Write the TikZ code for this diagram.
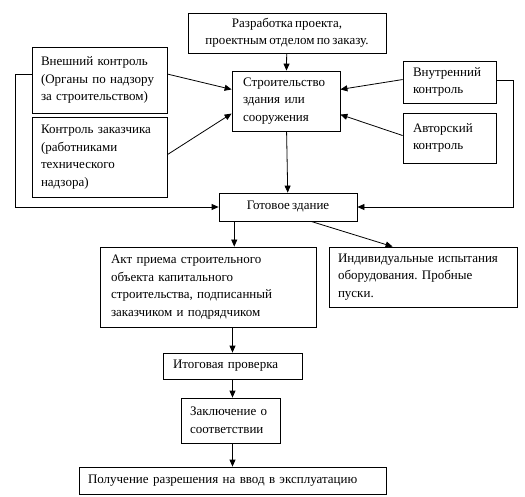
\documentclass[tikz,border=0pt]{standalone}
\usepackage{fontspec}
\setmainfont{Liberation Serif}[WordSpace=0.7]
\usetikzlibrary{arrows.meta}
\frenchspacing

\begin{document}
\begin{tikzpicture}[x=1pt,y=-1pt,->,>={Triangle[length=7pt,width=6pt]},line width=0.8pt]
	\tikzstyle{block}=[draw,rectangle,align=left,inner ysep=0pt,font=\fontsize{13}{17.5}\selectfont]
	\useasboundingbox (0,0) rectangle (525,497);

	\node[block,align=center,minimum width=198pt,minimum height=40pt] (G-razr) at (287,33) {Разработка проекта,\\проектным отделом по заказу.};
	\node[block,text width=117pt,inner xsep=9pt,minimum height=66pt] (G-vnesh) at (99.5,80) {Внешний контроль\\(Органы по надзору\\за строительством)};
	\node[block,text width=117pt,inner xsep=9pt,minimum height=80pt] (G-zakaz) at (99.5,157) {Контроль заказчика\\(работниками\\технического\\надзора)};
	\node[block,text width=86pt,inner xsep=11pt,minimum height=60pt] (G-stroi) at (286,101) {Строительство\\здания или\\сооружения};
	\node[block,text width=73pt,inner xsep=10pt,minimum height=42pt] (G-vnutr) at (449.5,82) {Внутренний\\контроль};
	\node[block,text width=73pt,inner xsep=10pt,minimum height=50pt] (G-avtor) at (449.5,138) {Авторский\\контроль};
	\node[block,align=center,minimum width=138pt,minimum height=28pt] (G-gotovo) at (288,207) {Готовое здание};
	\node[block,text width=194pt,inner xsep=11pt,minimum height=80pt] (G-akt) at (208,287) {Акт приема строительного\\объекта капитального\\строительства, подписанный\\заказчиком и подрядчиком};
	\node[block,text width=170pt,inner xsep=9pt,minimum height=60pt] (G-indiv) at (423,277) {Индивидуальные испытания\\оборудования. Пробные\\пуски.};
	\node[block,text width=119pt,inner xsep=10pt,minimum height=26pt] (G-itog) at (232.5,366) {Итоговая проверка};
	\node[block,text width=81pt,inner xsep=9pt,minimum height=45pt] (G-zakl) at (230.5,420.5) {Заключение о\\соответствии};
	\node[block,text width=289pt,inner xsep=9pt,minimum height=27pt] (G-polu) at (232.5,480.5) {Получение разрешения на ввод в эксплуатацию};

	\foreach \from/\to in {vnesh.5/stroi.168, zakaz.2/stroi.193, vnutr.177/stroi.12, avtor.177/stroi.-14, gotovo.-32/indiv.135}
	\draw (G-\from) -- (G-\to);

	\draw (G-razr) -- (G-stroi);
	\draw (G-stroi) -- (G-gotovo);
	\draw (G-vnesh.175) -- ++(-16,0) |- (G-gotovo.west);
	\draw (G-vnutr.2) -- ++(17,0) |- (G-gotovo.east);
	\draw (G-gotovo.195) -- (G-gotovo.195 |- G-akt.north);
	\draw (G-akt.south -| G-itog.north) -- (G-itog.north);
	\draw (G-itog.south) -- (G-itog.south |- G-zakl.north);
	\draw (G-polu.north |- G-zakl.south) -- (G-polu.north);
\end{tikzpicture}
\end{document}
